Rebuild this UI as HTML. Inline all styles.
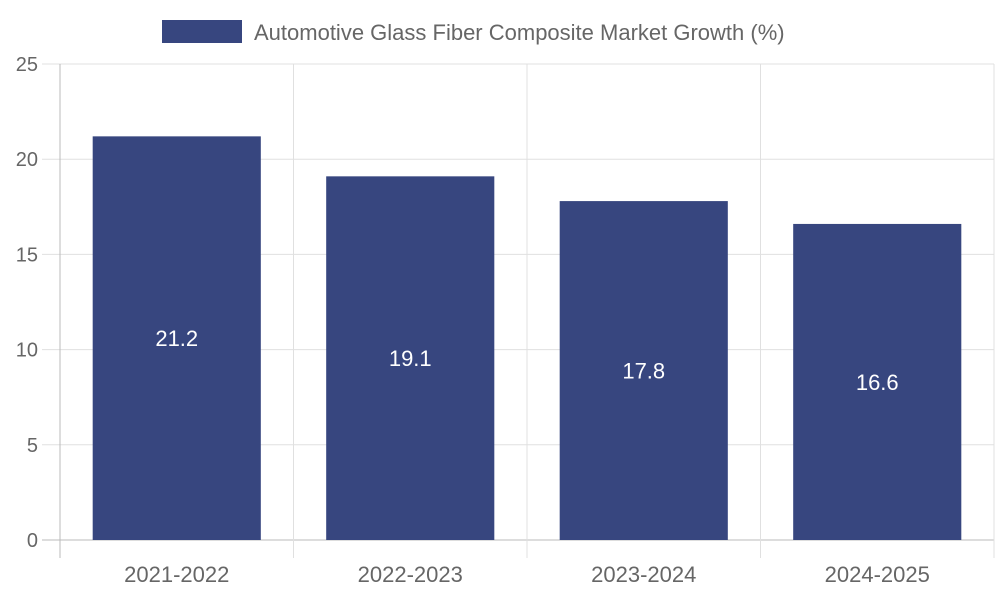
<!DOCTYPE html>
<html><head><meta charset="utf-8"><style>
html,body{margin:0;padding:0;background:#fff;}
svg{display:block;font-family:"Liberation Sans",sans-serif;}
</style></head><body>
<svg id="chart" width="1000" height="600" viewBox="0 0 1000 600" xmlns="http://www.w3.org/2000/svg">
<g id="legend">
<rect x="162" y="20" width="80" height="23" fill="#37467f"/>
<text x="254" y="40" font-size="22" fill="#666">Automotive Glass Fiber Composite Market Growth (%)</text>
</g>
</svg>
<script>
const categories=["2021-2022","2022-2023","2023-2024","2024-2025"];
const values=[21.2,19.1,17.8,16.6];
const yTicks=[0,5,10,15,20,25];
const NS="http://www.w3.org/2000/svg";
const svg=document.getElementById('chart');
const L=60,R=994,T=64,B=540,yMax=25;
const y=v=>B-(v/yMax)*(B-T);
const bw=(R-L)/categories.length;
const x=i=>L+i*bw;
function mk(tag,attrs,parent){const e=document.createElementNS(NS,tag);for(const k in attrs)e.setAttribute(k,attrs[k]);(parent||svg).appendChild(e);return e;}
const grid=mk('g',{});


yTicks.forEach(t=>{
  const l=mk('line',{x1:L-18,x2:R,y1:y(t),y2:y(t),stroke:t===0?'#bbb':'#e0e0e0','stroke-width':1},grid);
  
  
  const tx=mk('text',{x:38,y:y(t)+7,'text-anchor':'end','font-size':20,fill:'#666'});
  tx.textContent=t;
  
  
});
for(let i=0;i<=categories.length;i++){
  const l=mk('line',{x1:x(i),x2:x(i),y1:T,y2:B+18,stroke:i===0?'#bbb':'#e0e0e0','stroke-width':1},grid);
  
  
}
categories.forEach((c,i)=>{
  const v=values[i];
  const w=bw*0.72;
  const bx=x(i)+(bw-w)/2;
  const r=mk('rect',{x:bx,y:y(v),width:w,height:B-y(v),fill:'#37467f'});
  
  
  const lb=mk('text',{x:x(i)+bw/2,y:(y(v)+B)/2+8,'text-anchor':'middle','font-size':22,fill:'#fff'});
  lb.textContent=v;
  
  
  const xl=mk('text',{x:x(i)+bw/2,y:582,'text-anchor':'middle','font-size':22,fill:'#666'});
  xl.textContent=c;
  
  
});
svg.appendChild(document.getElementById('legend'));
</script>
</body></html>
